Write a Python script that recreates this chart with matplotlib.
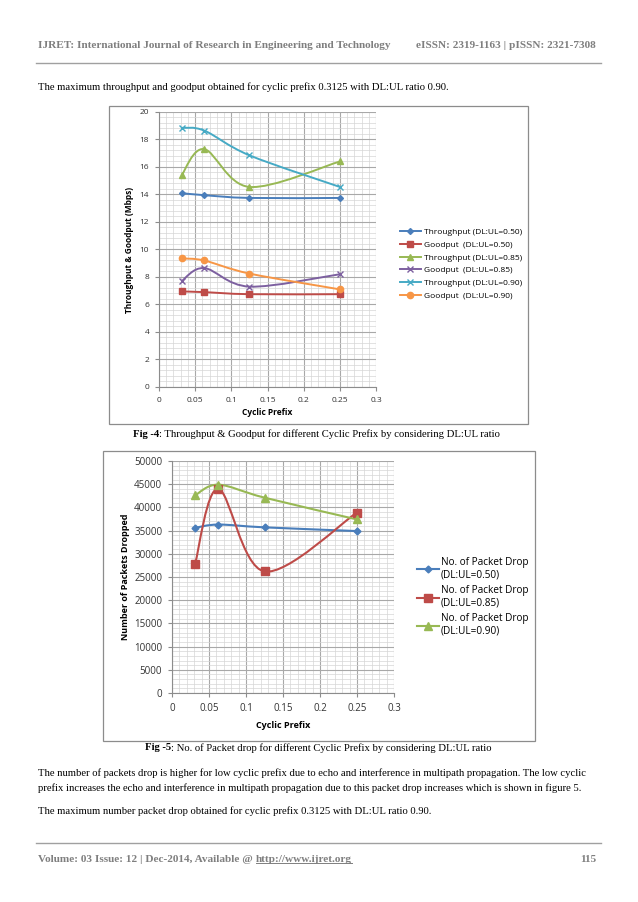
import matplotlib
matplotlib.use("Agg")
import matplotlib.pyplot as plt
from matplotlib.path import Path
from matplotlib.patches import PathPatch, Rectangle
from matplotlib.lines import Line2D
from matplotlib.ticker import MultipleLocator, FuncFormatter

# cyclic prefix values
cyclic_prefix = [0.03125, 0.0625, 0.125, 0.25]

# Fig 4 - throughput & goodput (Mbps)
thr_050 = [14.1, 13.95, 13.75, 13.75]
good_050 = [6.95, 6.9, 6.75, 6.75]
thr_085 = [15.4, 17.3, 14.55, 16.4]
good_085 = [7.7, 8.65, 7.3, 8.2]
thr_090 = [18.85, 18.65, 16.85, 14.55]
good_090 = [9.35, 9.2, 8.25, 7.1]

fig4_labels = ["Throughput (DL:UL=0.50)", "Goodput  (DL:UL=0.50)",
               "Throughput (DL:UL=0.85)", "Goodput  (DL:UL=0.85)",
               "Throughput (DL:UL=0.90)", "Goodput  (DL:UL=0.90)"]

# Fig 5 - packets dropped
drop_050 = [35600, 36300, 35700, 34900]
drop_085 = [27900, 44000, 26200, 38900]
drop_090 = [42600, 44900, 42100, 37400]

fig5_labels = ["No. of Packet Drop\n(DL:UL=0.50)",
               "No. of Packet Drop\n(DL:UL=0.85)",
               "No. of Packet Drop\n(DL:UL=0.90)"]

BLUE, RED, GREEN = "#4A7EBB", "#BE4B48", "#98B954"
PURPLE, CYAN, ORANGE = "#7D60A0", "#46AAC5", "#F79646"

CHART_FONT = ["Open Sans", "DejaVu Sans"]
PAGE_FONT = ["Liberation Serif", "DejaVu Serif"]
BODY_FS = 7.7
CAP_FS = 7.7
HEAD_FS = 8.1

W, H = 638, 902


def px_axes(fig, x0, y0, x1, y1):
    return fig.add_axes([x0 / W, 1 - y1 / H, (x1 - x0) / W, (y1 - y0) / H])


def smooth_path(xs, ys):
    # excel-like smoothed line: catmull-rom bezier through the points
    pts = list(zip(xs, ys))
    n = len(pts)
    verts = [pts[0]]
    codes = [Path.MOVETO]
    for i in range(n - 1):
        p0 = pts[i - 1] if i > 0 else pts[i]
        p1 = pts[i]
        p2 = pts[i + 1]
        p3 = pts[i + 2] if i + 2 < n else pts[i + 1]
        c1 = (p1[0] + (p2[0] - p0[0]) / 6, p1[1] + (p2[1] - p0[1]) / 6)
        c2 = (p2[0] - (p3[0] - p1[0]) / 6, p2[1] - (p3[1] - p1[1]) / 6)
        verts += [c1, c2, p2]
        codes += [Path.CURVE4] * 3
    return Path(verts, codes)


def draw_series(ax, ys, color, marker, ms, lw=1.4):
    ax.add_patch(PathPatch(smooth_path(cyclic_prefix, ys), fill=False,
                           edgecolor=color, lw=lw, zorder=3))
    ax.plot(cyclic_prefix, ys, ls="none", marker=marker, ms=ms, color=color,
            mec=color, mew=1.0, zorder=4)
    return Line2D([], [], color=color, lw=lw, marker=marker, ms=ms, mec=color)


def style_axes(ax, xminor, ymajor, yminor, ymax, fs):
    ax.set_xlim(0, 0.3)
    ax.set_ylim(0, ymax)
    ax.xaxis.set_major_locator(MultipleLocator(0.05))
    ax.xaxis.set_minor_locator(MultipleLocator(xminor))
    ax.yaxis.set_major_locator(MultipleLocator(ymajor))
    ax.yaxis.set_minor_locator(MultipleLocator(yminor))
    ax.xaxis.set_major_formatter(FuncFormatter(lambda v, p: f"{round(v, 3):g}"))
    ax.yaxis.set_major_formatter(FuncFormatter(lambda v, p: f"{v:g}"))
    ax.grid(True, which="major", color="#A8A8A8", lw=0.8)
    ax.grid(True, which="minor", color="#D6D6D6", lw=0.5)
    ax.set_axisbelow(True)
    for s in ["top", "right"]:
        ax.spines[s].set_visible(False)
    for s in ["left", "bottom"]:
        ax.spines[s].set_color("#8C8C8C")
        ax.spines[s].set_linewidth(0.8)
    ax.tick_params(which="major", length=3, color="#8C8C8C", labelsize=fs,
                   labelcolor="#333333", pad=4)
    ax.tick_params(which="minor", length=0)
    for lab in ax.get_xticklabels() + ax.get_yticklabels():
        lab.set_family(CHART_FONT)


fig = plt.figure(figsize=(W / 100, H / 100), dpi=100)

# ---- page header ----
gray = "#7F7F7F"
fig.text(38 / W, 1 - 46 / H, "IJRET: International Journal of Research in Engineering and Technology",
         family=PAGE_FONT, fontsize=HEAD_FS, weight="bold", color=gray, va="center")
fig.text(596 / W, 1 - 46 / H, "eISSN: 2319-1163 | pISSN: 2321-7308",
         family=PAGE_FONT, fontsize=HEAD_FS, weight="bold", color=gray, va="center", ha="right")
fig.add_artist(Line2D([36 / W, 601 / W], [1 - 63 / H] * 2, color="#A0A0A0", lw=1))

fig.text(38 / W, 1 - 87 / H,
         "The maximum throughput and goodput obtained for cyclic prefix 0.3125 with DL:UL ratio 0.90.",
         family=PAGE_FONT, fontsize=BODY_FS, va="center")

# ---- figure 4 ----
fig.add_artist(Rectangle((109 / W, 1 - 424 / H), (528 - 109) / W, (424 - 106) / H,
                         transform=fig.transFigure, fill=False, ec="#8C8C8C", lw=0.9))
ax1 = px_axes(fig, 159, 112, 376, 387)
h = []
h.append(draw_series(ax1, thr_050, BLUE, "D", 3))
h.append(draw_series(ax1, good_050, RED, "s", 4.5))
h.append(draw_series(ax1, thr_085, GREEN, "^", 5))
h.append(draw_series(ax1, good_085, PURPLE, "x", 4))
h.append(draw_series(ax1, thr_090, CYAN, "x", 4))
h.append(draw_series(ax1, good_090, ORANGE, "o", 4.5))
style_axes(ax1, 0.01, 2, 0.4, 20, 6)
ax1.set_xlabel("Cyclic Prefix", family=CHART_FONT, fontsize=6, weight="bold", labelpad=3)
ax1.set_ylabel("Throughput & Goodput (Mbps)", family=CHART_FONT, fontsize=6,
               weight="bold", labelpad=4)
fig.legend(h, fig4_labels, loc="center left", bbox_to_anchor=(392 / W, 1 - 264 / H),
           frameon=False, prop={"family": CHART_FONT, "size": 6},
           handlelength=2.6, handletextpad=0.3, labelspacing=0.6)

t = fig.text(133 / W, 1 - 434 / H, "Fig -4", family=PAGE_FONT, fontsize=CAP_FS,
             weight="bold", va="center")
plt.annotate(": Throughput & Goodput for different Cyclic Prefix by considering DL:UL ratio",
             xy=(1, 0.5), xycoords=t, va="center", ha="left",
             family=PAGE_FONT, fontsize=CAP_FS)

# ---- figure 5 ----
fig.add_artist(Rectangle((103 / W, 1 - 741 / H), (535 - 103) / W, (741 - 451) / H,
                         transform=fig.transFigure, fill=False, ec="#8C8C8C", lw=0.9))
ax2 = px_axes(fig, 172, 461, 394, 693)
h2 = []
h2.append(draw_series(ax2, drop_050, BLUE, "D", 3.5, lw=1.5))
h2.append(draw_series(ax2, drop_085, RED, "s", 5.5, lw=1.5))
h2.append(draw_series(ax2, drop_090, GREEN, "^", 5.5, lw=1.5))
style_axes(ax2, 0.01, 5000, 1000, 50000, 7)
ax2.set_xlabel("Cyclic Prefix", family=CHART_FONT, fontsize=6.5, weight="bold", labelpad=5)
ax2.set_ylabel("Number of Packets Dropped", family=CHART_FONT, fontsize=6.5,
               weight="bold", labelpad=3)
fig.legend(h2, fig5_labels, loc="center left", bbox_to_anchor=(408 / W, 1 - 597 / H),
           frameon=False, prop={"family": CHART_FONT, "size": 7.2},
           handlelength=2.2, handletextpad=0.2, labelspacing=0.45)

t2 = fig.text(145 / W, 1 - 748 / H, "Fig -5", family=PAGE_FONT, fontsize=CAP_FS,
              weight="bold", va="center")
plt.annotate(": No. of Packet drop for different Cyclic Prefix by considering DL:UL ratio",
             xy=(1, 0.5), xycoords=t2, va="center", ha="left",
             family=PAGE_FONT, fontsize=CAP_FS)

# ---- body text ----
fig.text(38 / W, 1 - 773 / H,
         "The number of packets drop is higher for low cyclic prefix due to echo and interference in multipath propagation. The low cyclic",
         family=PAGE_FONT, fontsize=BODY_FS, va="center")
fig.text(38 / W, 1 - 788 / H,
         "prefix increases the echo and interference in multipath propagation due to this packet drop increases which is shown in figure 5.",
         family=PAGE_FONT, fontsize=BODY_FS, va="center")
fig.text(38 / W, 1 - 811 / H,
         "The maximum number packet drop obtained for cyclic prefix 0.3125 with DL:UL ratio 0.90.",
         family=PAGE_FONT, fontsize=BODY_FS, va="center")

# ---- footer ----
fig.add_artist(Line2D([36 / W, 601 / W], [1 - 843 / H] * 2, color="#A0A0A0", lw=1))
ft = fig.text(38 / W, 1 - 859 / H, "Volume: 03 Issue: 12 | Dec-2014, Available @ ",
              family=PAGE_FONT, fontsize=HEAD_FS, weight="bold", color=gray, va="center")
url = plt.annotate("http://www.ijret.org", xy=(1, 0.5), xycoords=ft, va="center", ha="left",
                   family=PAGE_FONT, fontsize=HEAD_FS, weight="bold", color=gray)
fig.text(596 / W, 1 - 859 / H, "115", family=PAGE_FONT, fontsize=HEAD_FS, weight="bold",
         color=gray, va="center", ha="right")

# underline the link
fig.canvas.draw()
bb = url.get_window_extent().transformed(fig.transFigure.inverted())
fig.add_artist(Line2D([bb.x0, bb.x1], [bb.y0 + 0.5 / H] * 2, color=gray, lw=0.7))

fig.savefig("out.png", dpi=100)
